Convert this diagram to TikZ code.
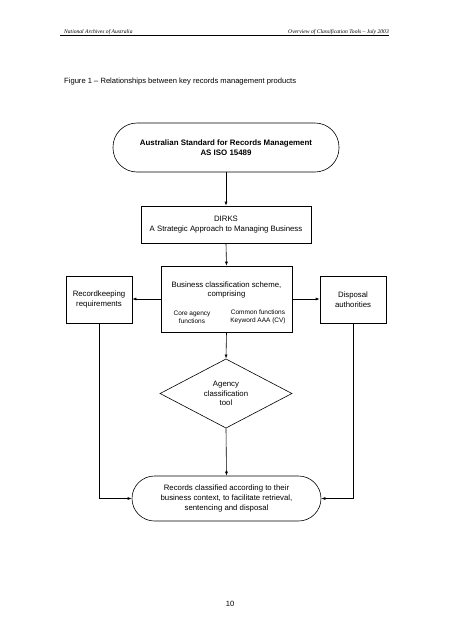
\documentclass[tikz,border=0pt]{standalone}
\usepackage{fontspec}
\setmainfont{Liberation Sans}
\newfontfamily\hdrfont{Liberation Serif}
\usetikzlibrary{shapes.geometric,arrows.meta}
\begin{document}
\begin{tikzpicture}[x=1pt,y=-1pt,
  box/.style={draw, line width=0.6pt, align=center, inner sep=0pt,
    font=\fontsize{7.8}{9.8}\selectfont},
  txt/.style={align=center, inner sep=0pt, font=\fontsize{7.8}{9.8}\selectfont},
  small/.style={align=center, inner sep=0pt, font=\fontsize{6.5}{8}\selectfont},
  arr/.style={-{Latex[length=4pt,width=3pt]}, line width=0.6pt},
  hdr/.style={inner sep=0pt, font=\hdrfont\itshape\fontsize{5.6}{6}\selectfont}]
\useasboundingbox (0,0) rectangle (452,640);
\fill[white] (0,0) rectangle (452,640);
% header
\node[hdr, anchor=base west] (hl) at (64,33) {National Archives of Australia};
\node[hdr, anchor=base east] (hr) at (389,33) {Overview of Classification Tools – July 2003};
\draw[line width=0.8pt] (60,35.3) -- (389,35.3);
\node[anchor=base west, inner sep=0pt, font=\fontsize{7.6}{9}\selectfont] (cap) at (64,83.5)
  {Figure 1 – Relationships between key records management products};
% nodes
\node[box, rounded corners=24pt, minimum width=226pt, minimum height=49pt,
  font=\bfseries\fontsize{7.9}{9.8}\selectfont] (std) at (226,147.5)
  {Australian Standard for Records Management\\AS ISO 15489};
\node[box, minimum width=170pt, minimum height=37pt] (dirks) at (226,224.5)
  {DIRKS\\A Strategic Approach to Managing Business};
\node[box, minimum width=131pt, minimum height=66pt] (bcs) at (226.5,299) {};
\node[txt] (bcst) at (226.5,290) {Business classification scheme,\\comprising};
\node[small] (core) at (192,317) {Core agency\\functions};
\node[small] (common) at (258,317) {Common functions\\Keyword AAA (CV)};
\node[box, minimum width=66pt, minimum height=47pt] (rk) at (99,299.5)
  {Recordkeeping\\requirements};
\node[box, minimum width=66pt, minimum height=47pt] (disp) at (353,299.5)
  {Disposal\\authorities};
\node[box, diamond, minimum width=132pt, minimum height=65pt] (dia) at (226,393.5)
  {Agency\\classification\\tool};
\node[box, rounded corners=22.5pt, minimum width=189pt, minimum height=45pt] (bot) at (226.5,498.5)
  {Records classified according to their\\business context, to facilitate retrieval,\\sentencing and disposal};
\node[inner sep=0pt, font=\fontsize{7.6}{9}\selectfont] (pg) at (230,604) {10};
% connectors
\draw[arr] (std.south) -- (dirks.north);
\draw[arr] (dirks.south) -- (bcs.north);
\draw[arr] (bcs.west) -- (bcs.west -| rk.east);
\draw[arr] (bcs.east) -- (bcs.east -| disp.west);
\draw[arr] (bcs.south) -- (dia.north);
\draw[arr] (dia.south) -- (bot.north);
\draw[arr] (rk.south) |- (bot.west);
\draw[arr] (disp.south) |- (bot.east);
\end{tikzpicture}
\end{document}
